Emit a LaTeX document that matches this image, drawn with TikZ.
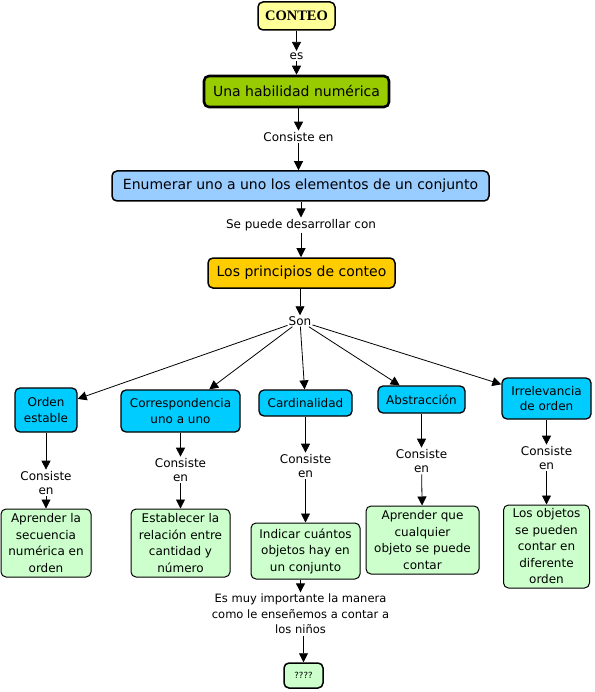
\documentclass[tikz,border=0pt]{standalone}
\usepackage{fontspec}
\setmainfont{DejaVu Sans}
\newfontfamily\titlefont{Liberation Serif}
\usetikzlibrary{arrows.meta}
\definecolor{cyellow}{HTML}{FFFF99}
\definecolor{colive}{HTML}{99CC00}
\definecolor{cblue}{HTML}{99CCFF}
\definecolor{cgold}{HTML}{FFCC00}
\definecolor{ccyan}{HTML}{00CCFF}
\definecolor{cgreen}{HTML}{CCFFCC}
\begin{document}
\begin{tikzpicture}[x=1pt,y=-1pt,
  box/.style={draw=black, line width=1.3pt, rounded corners=5pt, align=center, inner sep=0pt},
  bigtxt/.style={font=\fontsize{14}{16}\selectfont},
  cyantxt/.style={font=\fontsize{12}{15.5}\selectfont},
  smalltxt/.style={font=\fontsize{12}{16.5}\selectfont},
  lbl/.style={align=center, inner sep=1.5pt, font=\fontsize{12}{14}\selectfont},
  arr/.style={-{Triangle[length=9pt,width=9pt]}, line width=0.8pt}]
\useasboundingbox (0,0) rectangle (594,692);
% main chain
\node[box, fill=cyellow, line width=1.5pt, minimum width=77, minimum height=28, font=\titlefont\bfseries\fontsize{14.5}{16}\selectfont] (conteo) at (296.5,16) {CONTEO};
\node[lbl] (es) at (296.5,56) {es};
\node[box, fill=colive, line width=2.6pt, minimum width=185, minimum height=31, bigtxt] (una) at (296.5,91.5) {Una habilidad numérica};
\node[lbl] (cons0) at (298.5,137) {Consiste en};
\node[box, fill=cblue, line width=1.5pt, minimum width=377, minimum height=30, bigtxt] (enum) at (300.5,186) {Enumerar uno a uno los elementos de un conjunto};
\node[lbl] (se) at (301,225) {Se puede desarrollar con};
\node[box, fill=cgold, line width=1.5pt, minimum width=187, minimum height=30, bigtxt] (princ) at (301.5,273) {Los principios de conteo};
\node[lbl, inner sep=1pt] (son) at (300,321) {Son};
% principles
\node[box, fill=ccyan, minimum width=62, minimum height=44, cyantxt] (orden) at (46,410) {Orden\\estable};
\node[box, fill=ccyan, minimum width=119, minimum height=42, cyantxt] (corr) at (180.5,411) {Correspondencia\\uno a uno};
\node[box, fill=ccyan, minimum width=93, minimum height=26, cyantxt] (card) at (305.5,403) {Cardinalidad};
\node[box, fill=ccyan, minimum width=87, minimum height=27, cyantxt] (abst) at (421.5,399.5) {Abstracción};
\node[box, fill=ccyan, minimum width=89, minimum height=41, cyantxt] (irr) at (546.5,398.5) {Irrelevancia\\de orden};
% consiste labels
\node[lbl] (c1) at (46,483) {Consiste\\en};
\node[lbl] (c2) at (180.5,470) {Consiste\\en};
\node[lbl] (c3) at (305.5,466) {Consiste\\en};
\node[lbl] (c4) at (421.5,461) {Consiste\\en};
\node[lbl] (c5) at (546.5,458) {Consiste\\en};
% green boxes
\node[box, fill=cgreen, line width=1pt, minimum width=90, minimum height=68, smalltxt] (g1) at (46,543) {Aprender la\\secuencia\\numérica en\\orden};
\node[box, fill=cgreen, line width=1pt, minimum width=99, minimum height=68, smalltxt] (g2) at (180.5,543) {Establecer la\\relación entre\\cantidad y\\número};
\node[box, fill=cgreen, line width=1pt, minimum width=109, minimum height=56, smalltxt] (g3) at (305.5,551) {Indicar cuántos\\objetos hay en\\un conjunto};
\node[box, fill=cgreen, line width=1pt, minimum width=113, minimum height=68, smalltxt] (g4) at (422.5,540) {Aprender que\\cualquier\\objeto se puede\\contar};
\node[box, fill=cgreen, line width=1pt, minimum width=86, minimum height=83, smalltxt] (g5) at (546.5,546.5) {Los objetos\\se pueden\\contar en\\diferente\\orden};
\node[lbl, font=\fontsize{11.5}{15.5}\selectfont] (imp) at (300.5,614) {Es muy importante la manera\\como le enseñemos a contar a\\los niños};
\node[box, fill=cgreen, line width=1.5pt, minimum width=39, minimum height=25, font=\fontsize{8.5}{10}\selectfont] (q) at (303.5,675.5) {????};
% connectors
\draw[arr] (conteo) -- (es);
\draw[arr] (es) -- (una);
\draw[arr] (una.south -| cons0) -- (cons0);
\draw[arr] (cons0) -- (cons0 |- enum.north);
\draw[arr] (enum.south -| se) -- (se);
\draw[arr] (se) -- (se |- princ.north);
\draw[arr] (princ.south -| son) -- (son);
\draw[arr] (son) -- (orden);
\draw[arr] (son) -- (corr);
\draw[arr] (son) -- (card);
\draw[arr] (son) -- (abst);
\draw[arr] (son) -- (irr);
\draw[arr] (orden) -- (c1);
\draw[arr] (c1) -- (g1);
\draw[arr] (corr) -- (c2);
\draw[arr] (c2) -- (g2);
\draw[arr] (card) -- (c3);
\draw[arr] (c3) -- (g3);
\draw[arr] (abst) -- (c4);
\draw[arr] (c4) -- (g4);
\draw[arr] (irr) -- (c5);
\draw[arr] (c5) -- (g5);
\draw[arr] (g3.south -| imp) -- (imp);
\draw[arr] (imp.south -| q) -- (q);
\end{tikzpicture}
\end{document}
